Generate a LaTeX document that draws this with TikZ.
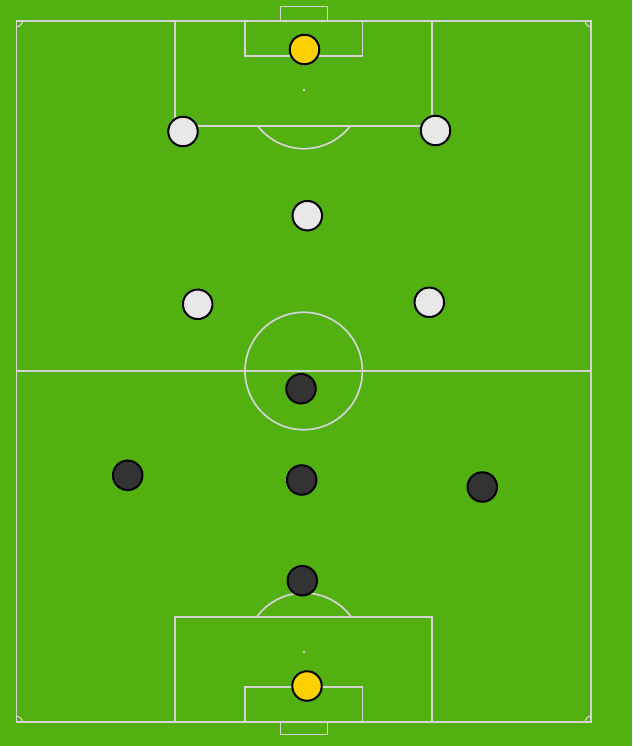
\documentclass[tikz,border=0pt]{standalone}
\definecolor{pitch}{HTML}{52B011}
\definecolor{pline}{HTML}{D4D4D4}
\definecolor{whitep}{HTML}{E8E8E8}
\definecolor{darkp}{HTML}{333333}
\definecolor{keeper}{HTML}{FFD000}
\begin{document}
\begin{tikzpicture}[x=1pt,y=-1pt,
  pitchline/.style={draw=pline,line width=1.7pt},
  goalbox/.style={draw=pline,line width=1pt},
  player/.style={circle,draw=black,line width=2pt,minimum size=29.5pt,inner sep=0pt},
  whiteplayer/.style={player,fill=whitep},
  darkplayer/.style={player,fill=darkp},
  keeperplayer/.style={player,fill=keeper}]
\fill[pitch] (0,0) rectangle (632,746);
\useasboundingbox (0,0) rectangle (632,746);
% outer lines
\draw[pitchline] (16.5,20.7) rectangle (591,722.3);
\draw[pitchline] (16.5,371) -- (591,371);
\draw[pitchline] (303.7,371) circle[radius=58.7];
% goals
\draw[goalbox] (280.6,20.7) -- (280.6,7) -- (327,7) -- (327,20.7);
\draw[goalbox] (280.6,722.3) -- (280.6,734.3) -- (327,734.3) -- (327,722.3);
% penalty areas
\draw[pitchline] (175,20.7) rectangle (432,126);
\draw[pitchline] (245,20.7) rectangle (362.5,55.7);
\draw[pitchline] (175,616.7) rectangle (432,722.3);
\draw[pitchline] (245,686.7) rectangle (362.5,722.3);
% spots
\fill[pline] (304,90) circle[radius=1.4];
\fill[pline] (304,651.7) circle[radius=1.4];
% penalty arcs
\begin{scope}
\clip (0,126) rectangle (632,200);
\draw[pitchline] (304,90) circle[radius=58.7];
\end{scope}
\begin{scope}
\clip (0,540) rectangle (632,616.7);
\draw[pitchline] (304,651.7) circle[radius=58.7];
\end{scope}
% corner arcs
\begin{scope}
\clip (16.5,20.7) rectangle (591,722.3);
\draw[pitchline,line width=1.1pt] (16.5,20.7) circle[radius=6];
\draw[pitchline,line width=1.1pt] (591,20.7) circle[radius=6];
\draw[pitchline,line width=1.1pt] (16.5,722.3) circle[radius=6];
\draw[pitchline,line width=1.1pt] (591,722.3) circle[radius=6];
\end{scope}
% players
\node[keeperplayer] (gk1) at (304.5,49.5) {};
\node[whiteplayer] (w1) at (183,131.5) {};
\node[whiteplayer] (w2) at (435.5,130.5) {};
\node[whiteplayer] (w3) at (307.3,215.7) {};
\node[whiteplayer] (w4) at (197.7,304.3) {};
\node[whiteplayer] (w5) at (429.3,302.3) {};
\node[darkplayer] (d1) at (301,388.7) {};
\node[darkplayer] (d2) at (127.7,475.3) {};
\node[darkplayer] (d3) at (301.7,480) {};
\node[darkplayer] (d4) at (482.3,487) {};
\node[darkplayer] (d5) at (302.3,580.7) {};
\node[keeperplayer] (gk2) at (307,686) {};
\end{tikzpicture}
\end{document}
